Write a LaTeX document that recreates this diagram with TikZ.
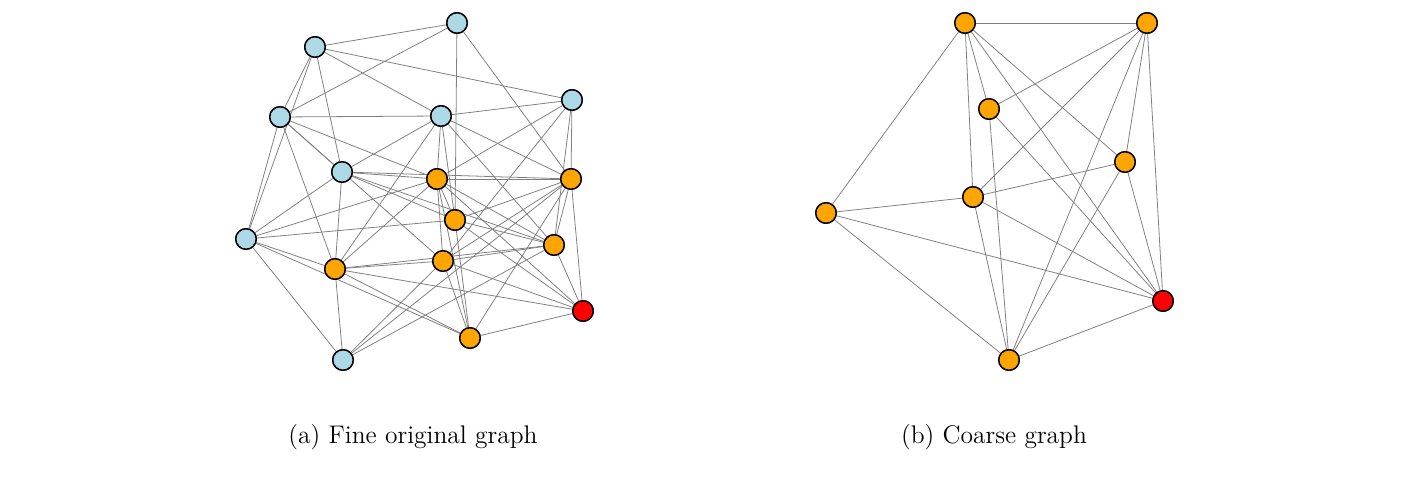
\documentclass[tikz,border=0pt]{standalone}
\definecolor{lb}{HTML}{ADD8E6}
\definecolor{orng}{HTML}{FFA500}
\begin{document}
\begin{tikzpicture}[x=0.02cm,y=-0.02cm,
  vb/.style={circle,draw=black,line width=0.8pt,fill=lb,minimum size=20.5*0.02cm,inner sep=0pt},
  vo/.style={vb,fill=orng},
  vr/.style={vb,fill=red},
  ed/.style={draw=gray,line width=0.45pt},
  captxt/.style={font=\fontsize{14.5}{17}\selectfont}]
\path[use as bounding box] (0,0) rectangle (1409,482);
% left graph
\node[vb] (A) at (457,23) {};
\node[vb] (B) at (315,47) {};
\node[vb] (C) at (572,100) {};
\node[vb] (D) at (280,117) {};
\node[vb] (E) at (441,116) {};
\node[vb] (F) at (342,172) {};
\node[vo] (G) at (437,179) {};
\node[vo] (H) at (571,179) {};
\node[vo] (I) at (455,220) {};
\node[vb] (J) at (246,239) {};
\node[vo] (K) at (554,245) {};
\node[vo] (L) at (443,261) {};
\node[vo] (M) at (335,269) {};
\node[vr] (N) at (583,311) {};
\node[vo] (O) at (470,338) {};
\node[vb] (P) at (343,360) {};
\foreach \u/\v in {A/B,A/D,A/I,A/H,B/C,B/E,B/D,B/J,B/F,C/E,C/G,C/L,C/K,C/H,
  D/E,D/F,D/G,D/J,D/M,D/L,E/F,E/G,E/I,E/H,E/K,E/M,
  F/G,F/H,F/I,F/K,F/J,F/M,G/H,G/J,G/M,G/I,G/L,G/K,G/N,G/O,
  H/K,H/N,H/O,H/P,H/L,H/I,J/I,J/M,J/O,J/P,K/L,K/I,K/N,K/P,K/M,
  L/M,L/O,L/N,L/P,M/N,M/O,M/P,N/O,I/N,I/O}
  \draw[ed] (\u) -- (\v);
% right graph
\node[vo] (a) at (965,23) {};
\node[vo] (b) at (1147,23) {};
\node[vo] (c) at (989,109) {};
\node[vo] (d) at (1125,162) {};
\node[vo] (e) at (973,197) {};
\node[vo] (f) at (826,213) {};
\node[vr] (g) at (1163,301) {};
\node[vo] (h) at (1009,360) {};
\foreach \u/\v in {a/b,a/f,a/c,a/e,a/d,a/g,b/c,b/e,b/h,b/d,b/g,c/g,c/h,
  d/e,d/g,d/h,e/f,e/g,e/h,f/g,f/h,g/h}
  \draw[ed] (\u) -- (\v);
% redraw nodes on top
\foreach \n in {A,B,C,D,E,F,J,P} \node[vb] at (\n) {};
\foreach \n in {G,H,I,K,L,M,O,a,b,c,d,e,f,h} \node[vo] at (\n) {};
\foreach \n in {N,g} \node[vr] at (\n) {};
\node[captxt] (ca) at (413,437) {(a) Fine original graph};
\node[captxt] (cb) at (994,437) {(b) Coarse graph};
\end{tikzpicture}
\end{document}
